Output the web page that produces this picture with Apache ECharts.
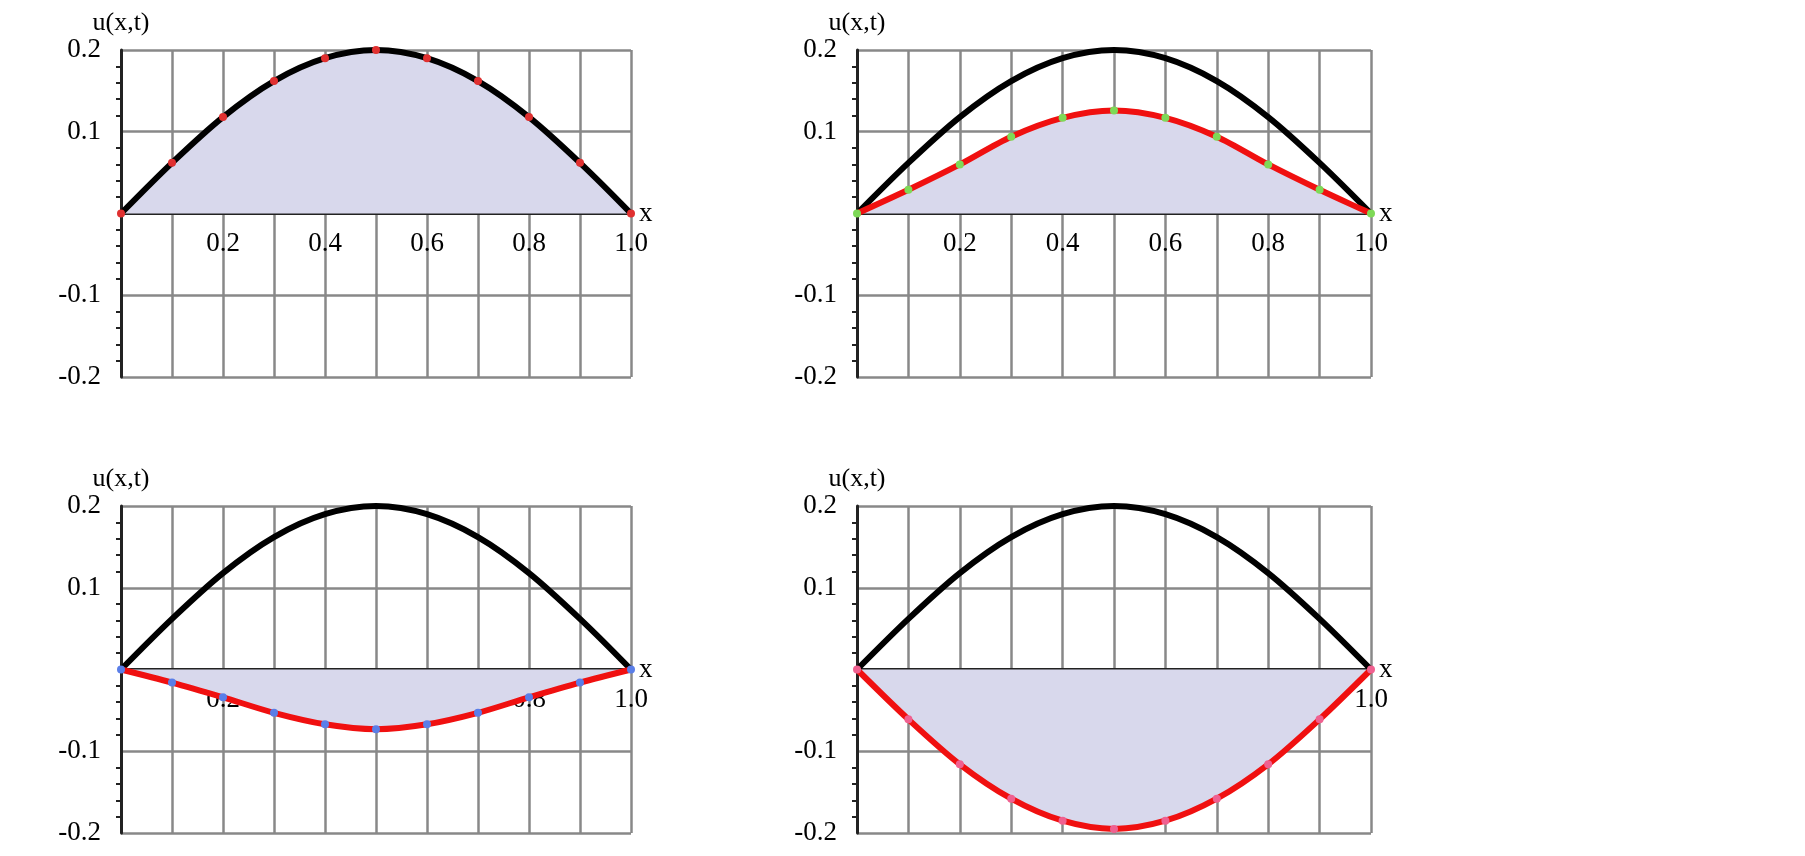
<!DOCTYPE html><html><head><meta charset="utf-8"><script src="https://cdn.jsdelivr.net/npm/echarts@6/dist/echarts.min.js"></script>
<style>body{margin:0;background:#fff}#c{width:1805px;height:856px}</style></head><body><div id="c"></div><script>
const xs=[0,0.1,0.2,0.3,0.4,0.5,0.6,0.7,0.8,0.9,1.0];
const initial=[0,0.062,0.118,0.162,0.190,0.200,0.190,0.162,0.118,0.062,0];
const t1=[0,0.029,0.060,0.094,0.117,0.126,0.117,0.094,0.060,0.029,0];
const t2=[0,-0.016,-0.034,-0.053,-0.067,-0.073,-0.067,-0.053,-0.034,-0.016,0];
const t3=[0,-0.061,-0.116,-0.158,-0.185,-0.195,-0.185,-0.158,-0.116,-0.061,0];
const xTicks=['0.2','0.4','0.6','0.8','1.0'];
const yTicks=['0.2','0.1','-0.1','-0.2'];
const panels=[[121,50,510],[857,50,514],[121,506,510],[857,506,514]];
const font='Liberation Serif';
const grid=[],xAxis=[],yAxis=[],series=[];
const pair=a=>xs.map((x,i)=>[x,a[i]]);
panels.forEach((p,i)=>{
 grid.push({left:p[0],top:p[1],width:p[2],height:327});
 xAxis.push({gridIndex:i,type:'value',min:0,max:1,interval:0.1,name:'x',nameGap:8,nameTextStyle:{fontFamily:font,fontSize:27,color:'#000',padding:[18,0,0,0]},
  axisLine:{onZero:true,lineStyle:{color:'#222',width:3}},axisTick:{show:false},
  axisLabel:{fontFamily:font,fontSize:27,color:'#000',margin:-147,formatter:v=>{const s=v.toFixed(1);return xTicks.includes(s)?s:''}},
  splitLine:{show:true,lineStyle:{color:'#888',width:2.5}}});
 yAxis.push({gridIndex:i,type:'value',min:-0.2,max:0.2,interval:0.1,name:'u(x,t)',nameGap:8,nameTextStyle:{fontFamily:font,fontSize:26,color:'#000',align:'center'},
  axisLine:{show:true,lineStyle:{color:'#222',width:3}},axisTick:{show:false},minorTick:{show:true,splitNumber:5,length:5,lineStyle:{color:'#222',width:2}},
  axisLabel:{fontFamily:font,fontSize:27,color:'#000',margin:20,formatter:v=>{const s=v.toFixed(1);return yTicks.includes(s)?s:''}},
  splitLine:{show:true,lineStyle:{color:'#888',width:2.5}}});
});
series.push({type:'line',xAxisIndex:0,yAxisIndex:0,data:pair(initial),smooth:0.3,symbol:'circle',symbolSize:8,itemStyle:{color:'#e03030'},lineStyle:{color:'#000',width:6},areaStyle:{color:'#d8d8ec',opacity:1},z:3});
const cur=[[t1,'#7ed957'],[t2,'#5a7ee8'],[t3,'#f06090']];
cur.forEach((c,k)=>{
 const i=k+1;
 series.push({type:'line',xAxisIndex:i,yAxisIndex:i,data:pair(initial),smooth:0.3,symbol:'none',lineStyle:{color:'#000',width:6},z:3});
 series.push({type:'line',xAxisIndex:i,yAxisIndex:i,data:pair(c[0]),smooth:0.3,symbol:'circle',symbolSize:8,itemStyle:{color:c[1]},lineStyle:{color:'#f01010',width:6},areaStyle:{color:'#d8d8ec',opacity:1},z:3});
});
const ch=echarts.init(document.getElementById('c'));
ch.setOption({animation:false,grid,xAxis,yAxis,series});
</script></body></html>
